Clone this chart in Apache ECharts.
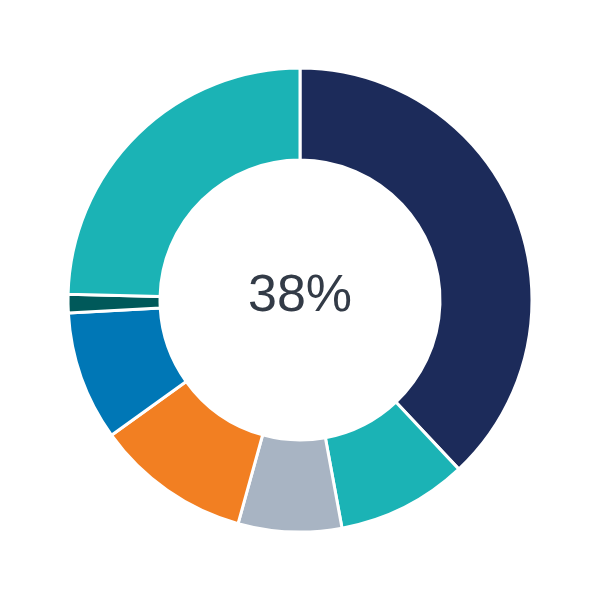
<!DOCTYPE html>
<html><head><meta charset="utf-8">
<script src="https://cdn.jsdelivr.net/npm/echarts@6/dist/echarts.min.js"></script>
<style>html,body{margin:0;padding:0;background:#fff}#c{width:600px;height:600px}</style>
</head><body><div id="c"></div>
<script>
const names = ['A','B','C','D','E','F','G'];
const values = [38, 9.1, 7.2, 10.8, 9.0, 1.3, 24.6];
const colors = ['#1c2b5a','#1bb3b5','#a8b4c3','#f27f22','#0077b6','#00595a','#1bb3b5'];
const centerLabel = '38%';
const chart = echarts.init(document.getElementById('c'));
chart.setOption({
  animation: false,
  graphic: [{ type: 'text', left: 'center', top: 271,
    style: { text: centerLabel, fontSize: 52, fill: '#333b47', fontFamily: 'Liberation Sans, Arial, sans-serif' } }],
  series: [{
    type: 'pie', center: [300, 300], radius: [140, 232], startAngle: 90, clockwise: true,
    label: { show: false }, labelLine: { show: false },
    itemStyle: { borderColor: '#fff', borderWidth: 3 },
    emphasis: { disabled: true },
    data: names.map((n, i) => ({ name: n, value: values[i], itemStyle: { color: colors[i] } }))
  }]
});
</script></body></html>
